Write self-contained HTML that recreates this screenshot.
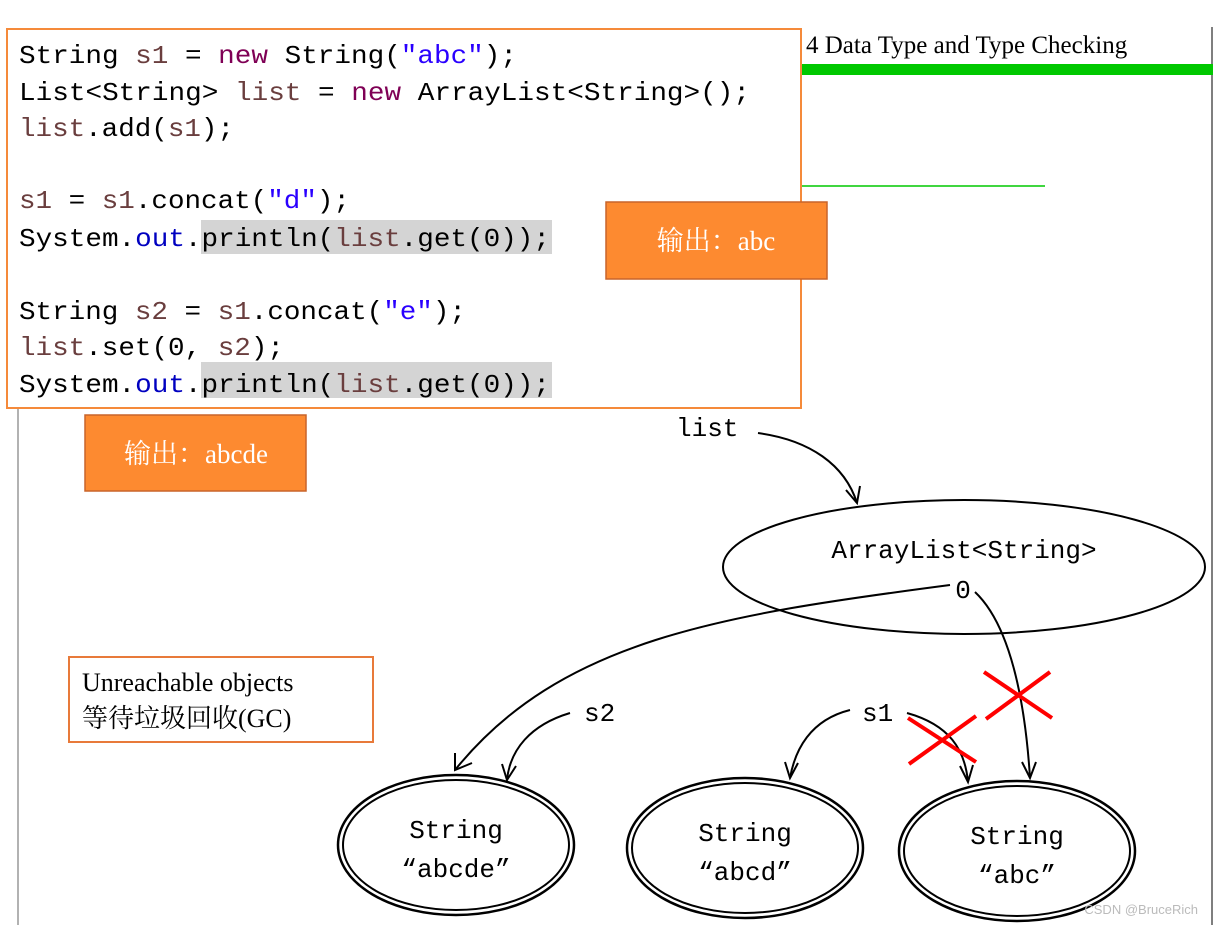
<!DOCTYPE html>
<html><head><meta charset="utf-8"><style>
html,body{margin:0;padding:0;background:#fff;}
svg{display:block;}
.m{font-family:"Liberation Mono","DejaVu Sans Mono",monospace;font-size:26px;}
.s{font-family:"Liberation Serif","Noto Serif CJK SC",serif;}
</style></head><body>
<svg width="1213" height="925" viewBox="0 0 1213 925" xmlns="http://www.w3.org/2000/svg">
<defs>
<marker id="a" markerWidth="14" markerHeight="14" refX="7" refY="12" orient="auto-start-reverse" markerUnits="userSpaceOnUse" viewBox="0 0 14 14">
</marker>
</defs>
<!-- frame lines -->
<line x1="18" y1="408" x2="18" y2="925" stroke="#999" stroke-width="1.5"/>
<line x1="1212" y1="27" x2="1212" y2="925" stroke="#555" stroke-width="1.5"/>
<text x="806" y="53" class="s" font-size="25" fill="#000">4 Data Type and Type Checking</text>
<rect x="801" y="64" width="412" height="11" fill="#00c800"/>
<line x1="801" y1="186" x2="1045" y2="186" stroke="#00c800" stroke-width="1.5"/>

<!-- code box -->
<rect x="7" y="29" width="794" height="379" fill="#fff" stroke="#f58a3a" stroke-width="2"/>
<rect x="201" y="220" width="351" height="34" fill="#d4d4d4"/>
<rect x="201" y="362" width="351" height="36" fill="#d4d4d4"/>
<g class="m" textLength="0">
<text x="19" y="63" textLength="498" lengthAdjust="spacingAndGlyphs"><tspan fill="#000">String </tspan><tspan fill="#6a3e3e">s1</tspan><tspan fill="#000"> = </tspan><tspan fill="#7f0055">new</tspan><tspan fill="#000"> String(</tspan><tspan fill="#2a00ff">"abc"</tspan><tspan fill="#000">);</tspan></text>
<text x="19" y="100" textLength="731" lengthAdjust="spacingAndGlyphs"><tspan fill="#000">List&lt;String&gt; </tspan><tspan fill="#6a3e3e">list</tspan><tspan fill="#000"> = </tspan><tspan fill="#7f0055">new</tspan><tspan fill="#000"> ArrayList&lt;String&gt;();</tspan></text>
<text x="19" y="136" textLength="215" lengthAdjust="spacingAndGlyphs"><tspan fill="#6a3e3e">list</tspan><tspan fill="#000">.add(</tspan><tspan fill="#6a3e3e">s1</tspan><tspan fill="#000">);</tspan></text>
<text x="19" y="208" textLength="331" lengthAdjust="spacingAndGlyphs"><tspan fill="#6a3e3e">s1</tspan><tspan fill="#000"> = </tspan><tspan fill="#6a3e3e">s1</tspan><tspan fill="#000">.concat(</tspan><tspan fill="#2a00ff">"d"</tspan><tspan fill="#000">);</tspan></text>
<text x="19" y="246" textLength="531" lengthAdjust="spacingAndGlyphs"><tspan fill="#000">System.</tspan><tspan fill="#0000c0">out</tspan><tspan fill="#000">.println(</tspan><tspan fill="#6a3e3e">list</tspan><tspan fill="#000">.get(0));</tspan></text>
<text x="19" y="319" textLength="447" lengthAdjust="spacingAndGlyphs"><tspan fill="#000">String </tspan><tspan fill="#6a3e3e">s2</tspan><tspan fill="#000"> = </tspan><tspan fill="#6a3e3e">s1</tspan><tspan fill="#000">.concat(</tspan><tspan fill="#2a00ff">"e"</tspan><tspan fill="#000">);</tspan></text>
<text x="19" y="355" textLength="265" lengthAdjust="spacingAndGlyphs"><tspan fill="#6a3e3e">list</tspan><tspan fill="#000">.set(0, </tspan><tspan fill="#6a3e3e">s2</tspan><tspan fill="#000">);</tspan></text>
<text x="19" y="392" textLength="531" lengthAdjust="spacingAndGlyphs"><tspan fill="#000">System.</tspan><tspan fill="#0000c0">out</tspan><tspan fill="#000">.println(</tspan><tspan fill="#6a3e3e">list</tspan><tspan fill="#000">.get(0));</tspan></text>
</g>

<!-- output boxes -->
<rect x="606" y="202" width="221" height="77" fill="#fd8a30" stroke="#c8642a" stroke-width="1.5"/>
<text x="716" y="250" class="s" font-size="27" fill="#fff" text-anchor="middle">输出：abc</text>
<rect x="85" y="415" width="221" height="76" fill="#fd8a30" stroke="#c8642a" stroke-width="1.5"/>
<text x="196" y="463" class="s" font-size="27" fill="#fff" text-anchor="middle">输出：abcde</text>

<!-- unreachable box -->
<rect x="69" y="657" width="304" height="85" fill="#fff" stroke="#e87a3a" stroke-width="2"/>
<text x="82" y="691" class="s" font-size="26" fill="#000">Unreachable objects</text>
<text x="82" y="727" class="s" font-size="26" fill="#000">等待垃圾回收(GC)</text>

<!-- ellipse -->
<ellipse cx="964" cy="567" rx="241" ry="67" fill="#fff" stroke="#000" stroke-width="2"/>
<text x="964" y="558" class="m" font-size="28" text-anchor="middle" fill="#000">ArrayList&lt;String&gt;</text>
<text x="963" y="598" class="m" font-size="26" text-anchor="middle" fill="#000">0</text>

<!-- circles -->
<g fill="#fff" stroke="#000">
<ellipse cx="456" cy="845" rx="118" ry="70" stroke-width="2.5"/>
<ellipse cx="456" cy="845" rx="113" ry="65" stroke-width="2"/>
<ellipse cx="745" cy="848" rx="118" ry="70" stroke-width="2.5"/>
<ellipse cx="745" cy="848" rx="113" ry="65" stroke-width="2"/>
<ellipse cx="1017" cy="851" rx="118" ry="70" stroke-width="2.5"/>
<ellipse cx="1017" cy="851" rx="113" ry="65" stroke-width="2"/>
</g>
<g class="m" font-size="29" text-anchor="middle" fill="#000">
<text x="456" y="838">String</text><text x="456" y="877">“abcde”</text>
<text x="745" y="841">String</text><text x="745" y="880">“abcd”</text>
<text x="1017" y="844">String</text><text x="1017" y="883">“abc”</text>
</g>

<!-- labels -->
<g class="m" font-size="28" fill="#000">
<text x="676" y="436">list</text>
<text x="584" y="721">s2</text>
<text x="862" y="721">s1</text>
</g>

<!-- arrows -->
<g fill="none" stroke="#000" stroke-width="2">
<path d="M758,433 C810,440 845,465 857,503"/>
<path d="M846,490 L857,503 L860,486"/>
<path d="M950,585 C720,615 560,640 455,770"/>
<path d="M455,753 L455,770 L472,763"/>
<path d="M570,713 C530,725 510,750 507,780"/>
<path d="M502,764 L507,780 L516,766"/>
<path d="M975,592 C1010,625 1025,700 1030,778"/>
<path d="M1022,762 L1030,778 L1036,762"/>
<path d="M850,710 C810,720 795,750 790,778"/>
<path d="M785,762 L790,778 L798,763"/>
<path d="M907,713 C950,725 965,750 968,782"/>
<path d="M960,766 L968,782 L973,765"/>
</g>
<!-- red X -->
<g stroke="#f00" stroke-width="4">
<line x1="986" y1="719" x2="1050" y2="672"/><line x1="984" y1="672" x2="1052" y2="718"/>
<line x1="909" y1="764" x2="976" y2="716"/><line x1="908" y1="718" x2="976" y2="762"/>
</g>
<text x="1198" y="914" font-family="Liberation Sans,sans-serif" font-size="13" fill="#bbb" text-anchor="end">CSDN @BruceRich</text>
</svg>
</body></html>
